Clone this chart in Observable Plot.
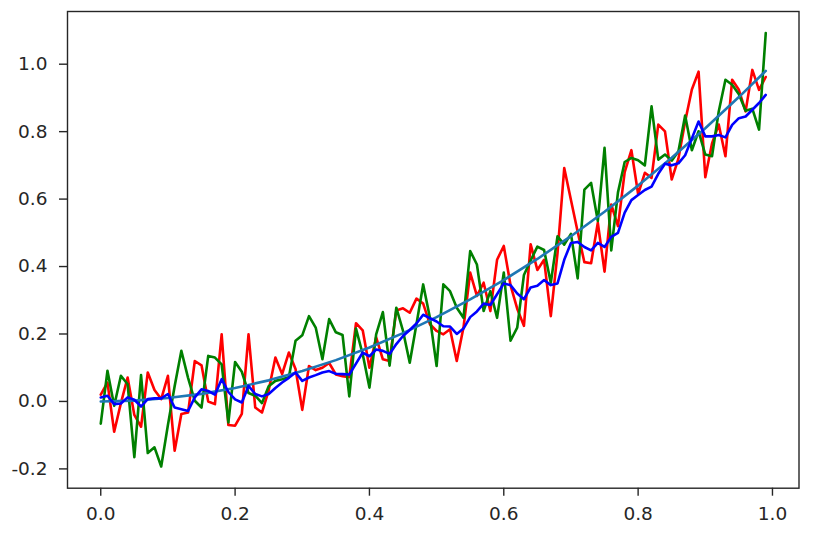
<!DOCTYPE html>
<html>
<head>
<meta charset="utf-8">
<script src="https://cdn.jsdelivr.net/npm/d3@7"></script>
<script src="https://cdn.jsdelivr.net/npm/@observablehq/plot@0.6"></script>
<style>
  html, body { margin: 0; padding: 0; background: #fff; overflow: hidden; }
</style>
</head>
<body>
<div id="chart"></div>
<script>
// Sample positions (step 0.01)
const xValues = d3.range(100).map(i => i / 100);

// Noisy series 1 (red)
const redValues = [
  0.02, 0.056, -0.09, -0.005, 0.071, -0.04, -0.075, 0.086, 0.034, 0.007,
  0.076, -0.146, -0.037, -0.033, 0.12, 0.107, 0.0, -0.008, 0.199, -0.07,
  -0.072, -0.037, 0.199, -0.018, -0.033, 0.033, 0.13, 0.081, 0.145, 0.096,
  -0.025, 0.105, 0.093, 0.10, 0.114, 0.08, 0.075, 0.072, 0.232, 0.211,
  0.10, 0.19, 0.125, 0.12, 0.27, 0.276, 0.263, 0.305, 0.29, 0.229,
  0.209, 0.199, 0.214, 0.12, 0.219, 0.382, 0.313, 0.352, 0.268, 0.42,
  0.461, 0.345, 0.275, 0.224, 0.466, 0.39, 0.42, 0.253, 0.44, 0.692,
  0.597, 0.503, 0.413, 0.41, 0.53, 0.385, 0.584, 0.52, 0.68, 0.745,
  0.615, 0.678, 0.663, 0.821, 0.801, 0.658, 0.72, 0.83, 0.925, 0.978,
  0.665, 0.765, 0.821, 0.727, 0.954, 0.924, 0.86, 0.983, 0.924, 0.962
];

// Noisy series 2 (green)
const greenValues = [
  -0.066, 0.091, -0.013, 0.076, 0.051, -0.165, 0.078, -0.153, -0.136, -0.193,
  -0.07, 0.045, 0.15, 0.07, 0.002, -0.018, 0.135, 0.13, 0.11, -0.062,
  0.117, 0.088, 0.025, 0.017, -0.005, 0.045, 0.061, 0.066, 0.072, 0.18,
  0.196, 0.253, 0.219, 0.125, 0.244, 0.205, 0.197, 0.015, 0.216, 0.14,
  0.041, 0.199, 0.265, 0.106, 0.278, 0.209, 0.115, 0.229, 0.347, 0.249,
  0.105, 0.347, 0.327, 0.278, 0.248, 0.446, 0.406, 0.268, 0.327, 0.248,
  0.382, 0.18, 0.219, 0.375, 0.418, 0.459, 0.449, 0.352, 0.49, 0.465,
  0.497, 0.365, 0.628, 0.648, 0.535, 0.752, 0.448, 0.62, 0.71, 0.722,
  0.715, 0.70, 0.875, 0.717, 0.732, 0.714, 0.742, 0.848, 0.745, 0.801,
  0.732, 0.727, 0.86, 0.954, 0.939, 0.911, 0.862, 0.868, 0.806, 1.092
];

// Smoothed series (blue)
const blueValues = [
  0.012, 0.017, -0.008, -0.006, 0.012, 0.005, -0.015, 0.007, 0.009, 0.009,
  0.022, -0.018, -0.023, -0.028, 0.012, 0.036, 0.031, 0.02, 0.066, 0.028,
  0.006, -0.003, 0.046, 0.022, 0.015, 0.022, 0.04, 0.056, 0.07, 0.086,
  0.061, 0.071, 0.078, 0.086, 0.09, 0.082, 0.081, 0.08, 0.112, 0.145,
  0.134, 0.154, 0.15, 0.141, 0.17, 0.194, 0.212, 0.231, 0.257, 0.247,
  0.237, 0.223, 0.222, 0.2, 0.216, 0.25, 0.267, 0.29, 0.286, 0.318,
  0.35, 0.345, 0.32, 0.303, 0.338, 0.343, 0.36, 0.345, 0.35, 0.42,
  0.47, 0.473, 0.458, 0.448, 0.47, 0.458, 0.488, 0.50, 0.56, 0.597,
  0.612, 0.627, 0.637, 0.675, 0.705, 0.70, 0.706, 0.73, 0.78, 0.83,
  0.786, 0.786, 0.79, 0.783, 0.82, 0.84, 0.845, 0.865, 0.885, 0.909
];

// Smooth trend curve (default colour line)
const trendX = [0, 0.05, 0.1, 0.15, 0.2, 0.25, 0.3, 0.35, 0.4, 0.45, 0.5,
                0.55, 0.6, 0.65, 0.7, 0.75, 0.8, 0.85, 0.9, 0.95, 0.99];
const trendValues = [0, 0.0025, 0.01, 0.0225, 0.04, 0.0625, 0.09, 0.1225, 0.16, 0.2025, 0.25,
                     0.3025, 0.36, 0.4225, 0.49, 0.5625, 0.64, 0.7225, 0.81, 0.9025, 0.98];

// Tick labels
const xTicks = [0, 0.2, 0.4, 0.6, 0.8, 1.0];
const yTicks = [-0.2, 0, 0.2, 0.4, 0.6, 0.8, 1.0];

const rows = xValues.map((x, i) => ({x, red: redValues[i], green: greenValues[i], blue: blueValues[i]}));
const trendRows = trendX.map((x, i) => ({x, y: trendValues[i]}));

// matplotlib-style 5% autoscale margins
const [x0, x1] = d3.extent(xValues);
const allY = [...redValues, ...greenValues, ...blueValues, ...trendValues];
const [y0, y1] = d3.extent(allY);
const px = (x1 - x0) * 0.05, py = (y1 - y0) * 0.05;

const fmt1 = d3.format(".1f");
const fmt = d => fmt1(d).replace("\u2212", "-");
const ink = "#262626";
const fs = 18.5;

const chart = Plot.plot({
  width: 815,
  height: 543,
  marginLeft: 67,
  marginRight: 16.5,
  marginTop: 11,
  marginBottom: 55.3,
  x: {domain: [x0 - px, x1 + px]},
  y: {domain: [y0 - py, y1 + py]},
  style: {fontFamily: "DejaVu Sans", fontSize: fs + "px", color: ink, background: "#fff"},
  marks: [
    Plot.axisX({ticks: xTicks, tickFormat: fmt, tickSize: 8, tickPadding: 11, strokeWidth: 1.4, fontSize: fs, label: null}),
    Plot.axisY({ticks: yTicks, tickFormat: fmt, tickSize: 8, tickPadding: 12, strokeWidth: 1.4, fontSize: fs, label: null}),
    Plot.line(rows, {x: "x", y: "red", stroke: "#ff0000", strokeWidth: 2.6}),
    Plot.line(rows, {x: "x", y: "green", stroke: "#008000", strokeWidth: 2.6}),
    Plot.line(trendRows, {x: "x", y: "y", stroke: "#1f77b4", strokeWidth: 2.6}),
    Plot.line(rows, {x: "x", y: "blue", stroke: "#0000ff", strokeWidth: 2.6}),
    Plot.frame({stroke: ink, strokeWidth: 1.4})
  ]
});

document.getElementById("chart").appendChild(chart);
</script>
</body>
</html>
